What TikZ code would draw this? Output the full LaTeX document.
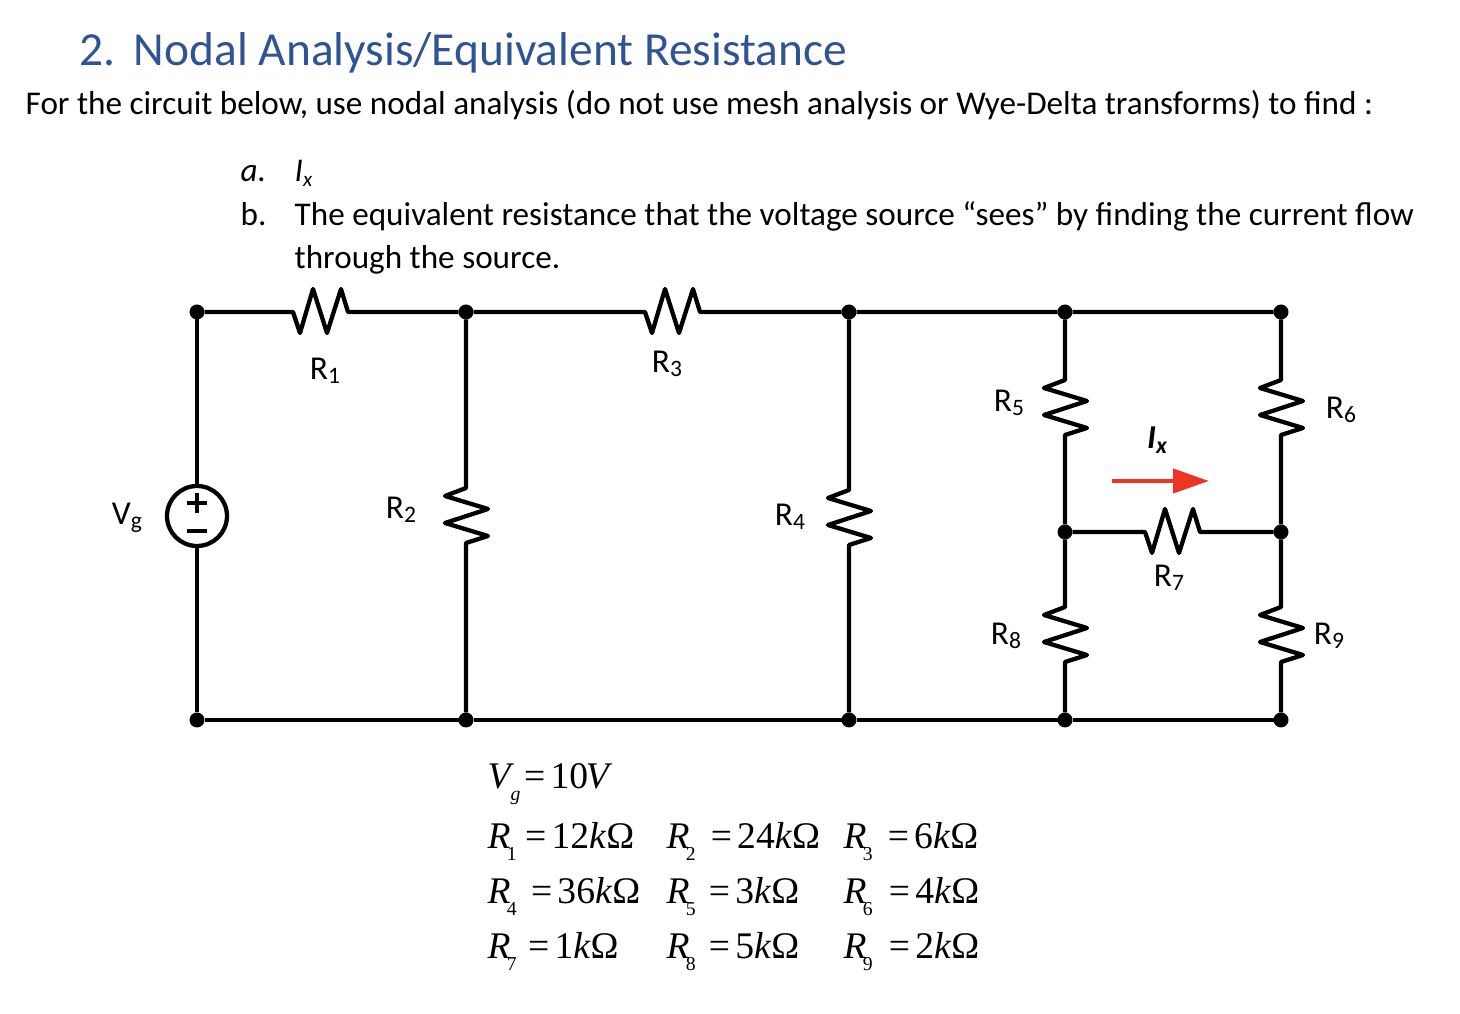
\documentclass[tikz,border=0pt]{standalone}
\usepackage{fontspec}
\setmainfont{Carlito}
\newfontfamily\eqfont{Liberation Serif}
\usetikzlibrary{arrows.meta}

\definecolor{titleblue}{HTML}{2F5496}
\definecolor{arrowred}{HTML}{EE3524}

\newcommand{\lab}[2]{#1\raisebox{-.28ex}{\fontsize{6.7}{7}\selectfont #2}}
\newcommand{\eqn}[4][.3em]{\textit{#2}\kern-.1em\raisebox{-.3em}{\fontsize{5.6}{6}\selectfont #3}\kern#1=\kern.14em#4}

\tikzset{
	wire/.style={line width=1.22pt,line join=round},
	dot/.style={circle,fill=black,draw=none,minimum size=.15cm,inner sep=0pt,outer sep=0pt},
	bodytext/.style={anchor=base west,inner sep=0pt,font=\fontsize{9.44}{11}\selectfont},
	titletext/.style={anchor=base west,inner sep=0pt,text=titleblue,font=\fontsize{13.5}{15}\selectfont},
	rlabel/.style={inner sep=0pt,font=\fontsize{9.5}{11}\selectfont},
	eqtext/.style={anchor=base west,inner sep=0pt,font=\eqfont\fontsize{10.7}{12}\selectfont},
	reshoriz/.style={to path={-- ++(.07,-.21) -- ++(.13,.44) -- ++(.14,-.44) -- ++(.14,.44) -- (\tikztotarget)}},
	resvert/.style={to path={-- ++(-.21,-.08) -- ++(.43,-.13) -- ++(-.43,-.14) -- ++(.43,-.13) -- (\tikztotarget)}}
}

\begin{document}
\begin{tikzpicture}
	\useasboundingbox (0,0) rectangle (14.6,-10.14);

	% text above the circuit
	\node[titletext] (title) at (.79,-.66) {2.\hspace{.38em}Nodal Analysis/Equivalent Resistance};
	\node[bodytext] (intro) at (.25,-1.15) {For the circuit below, use nodal analysis (do not use mesh analysis or Wye-Delta transforms) to find :};
	\node[bodytext] (itema) at (2.40,-1.82) {\textit{a.}};
	\node[bodytext] (itemaa) at (2.94,-1.82) {\textit{I\raisebox{-.28ex}{\fontsize{6}{7}\selectfont x}}};
	\node[bodytext] (itemb) at (2.40,-2.26) {b.};
	\node[bodytext] (itembb) at (2.94,-2.26) {The equivalent resistance that the voltage source “sees” by finding the current flow};
	\node[bodytext] (itembc) at (2.94,-2.69) {through the source.};

	% top, middle and bottom nodes
	\node[dot] (t1) at (1.97,-3.12) {};
	\node[dot] (t2) at (4.66,-3.12) {};
	\node[dot] (t3) at (8.49,-3.12) {};
	\node[dot] (t4) at (10.65,-3.12) {};
	\node[dot] (t5) at (12.81,-3.12) {};
	\node[dot] (m4) at (10.65,-5.32) {};
	\node[dot] (m5) at (12.81,-5.32) {};
	\node[dot] (b1) at (1.97,-7.20) {};
	\node[dot] (b2) at (4.66,-7.20) {};
	\node[dot] (b3) at (8.49,-7.20) {};
	\node[dot] (b4) at (10.65,-7.20) {};
	\node[dot] (b5) at (12.81,-7.20) {};

	% resistor ends
	\coordinate (r1a) at (2.93,-3.12);
	\coordinate (r1b) at (3.48,-3.12);
	\coordinate (r2a) at (4.66,-4.88);
	\coordinate (r2b) at (4.66,-5.43);
	\coordinate (r3a) at (6.45,-3.12);
	\coordinate (r3b) at (7.00,-3.12);
	\coordinate (r4a) at (8.49,-4.90);
	\coordinate (r4b) at (8.49,-5.45);
	\coordinate (r5a) at (10.65,-3.80);
	\coordinate (r5b) at (10.65,-4.35);
	\coordinate (r6a) at (12.81,-3.80);
	\coordinate (r6b) at (12.81,-4.35);
	\coordinate (r7a) at (11.45,-5.32);
	\coordinate (r7b) at (12.00,-5.32);
	\coordinate (r8a) at (10.65,-6.07);
	\coordinate (r8b) at (10.65,-6.62);
	\coordinate (r9a) at (12.81,-6.07);
	\coordinate (r9b) at (12.81,-6.62);

	% source
	\node[circle,draw,wire,minimum size=.60cm,inner sep=0pt] (vg) at (1.97,-5.16) {};
	\coordinate (plusl) at (1.87,-5.03);
	\coordinate (plusr) at (2.07,-5.03);
	\coordinate (plust) at (1.97,-4.93);
	\coordinate (plusb) at (1.97,-5.13);
	\coordinate (minusl) at (1.87,-5.31);
	\coordinate (minusr) at (2.07,-5.31);
	\draw[wire,line width=1.3pt] (plusl) -- (plusr);
	\draw[wire,line width=1.3pt] (plust) -- (plusb);
	\draw[wire,line width=1.3pt] (minusl) -- (minusr);

	% wires
	\draw[wire] (t1) -- (r1a) to[reshoriz] (r1b) -- (t2) -- (r3a) to[reshoriz] (r3b) -- (t3) -- (t4) -- (t5);
	\draw[wire] (b1) -- (b2) -- (b3) -- (b4) -- (b5);
	\draw[wire] (t1) -- (vg) -- (b1);
	\draw[wire] (t2) -- (r2a) to[resvert] (r2b) -- (b2);
	\draw[wire] (t3) -- (r4a) to[resvert] (r4b) -- (b3);
	\draw[wire] (t4) -- (r5a) to[resvert] (r5b) -- (m4) -- (r8a) to[resvert] (r8b) -- (b4);
	\draw[wire] (t5) -- (r6a) to[resvert] (r6b) -- (m5) -- (r9a) to[resvert] (r9b) -- (b5);
	\draw[wire] (m4) -- (r7a) to[reshoriz] (r7b) -- (m5);

	% current arrow
	\coordinate (ixa) at (11.12,-4.81);
	\coordinate (ixb) at (12.09,-4.81);
	\draw[arrowred,wire,-{Triangle[length=.36cm,width=.24cm]}] (ixa) -- (ixb);
	\node[rlabel,font=\bfseries\itshape\fontsize{9.5}{11}\selectfont] (ix) at (11.57,-4.40) {\lab{I}{x}};

	% labels
	\node[rlabel] (lvg) at (1.27,-5.18) {\lab{V}{g}};
	\node[rlabel] (lr1) at (3.25,-3.71) {\lab{R}{1}};
	\node[rlabel] (lr2) at (4.01,-5.10) {\lab{R}{2}};
	\node[rlabel] (lr3) at (6.67,-3.64) {\lab{R}{3}};
	\node[rlabel] (lr4) at (7.90,-5.17) {\lab{R}{4}};
	\node[rlabel] (lr5) at (10.09,-4.03) {\lab{R}{5}};
	\node[rlabel] (lr6) at (13.41,-4.10) {\lab{R}{6}};
	\node[rlabel] (lr7) at (11.69,-5.78) {\lab{R}{7}};
	\node[rlabel] (lr8) at (10.06,-6.36) {\lab{R}{8}};
	\node[rlabel] (lr9) at (13.29,-6.36) {\lab{R}{9}};

	% values
	\node[eqtext] (eg) at (4.87,-7.89) {\eqn[.1em]{V}{\textit{g}}{10\kern-.06em\textit{V}}};
	\node[eqtext] (e1) at (4.87,-8.49) {\eqn[.22em]{R}{1}{12\textit{k}Ω}};
	\node[eqtext] (e2) at (6.66,-8.49) {\eqn[.4em]{R}{2}{24\textit{k}Ω}};
	\node[eqtext] (e3) at (8.43,-8.49) {\eqn[.4em]{R}{3}{6\textit{k}Ω}};
	\node[eqtext] (e4) at (4.87,-9.04) {\eqn[.38em]{R}{4}{36\textit{k}Ω}};
	\node[eqtext] (e5) at (6.66,-9.04) {\eqn[.35em]{R}{5}{3\textit{k}Ω}};
	\node[eqtext] (e6) at (8.43,-9.04) {\eqn[.43em]{R}{6}{4\textit{k}Ω}};
	\node[eqtext] (e7) at (4.87,-9.59) {\eqn{R}{7}{1\textit{k}Ω}};
	\node[eqtext] (e8) at (6.66,-9.59) {\eqn[.35em]{R}{8}{5\textit{k}Ω}};
	\node[eqtext] (e9) at (8.43,-9.59) {\eqn[.43em]{R}{9}{2\textit{k}Ω}};
\end{tikzpicture}
\end{document}
